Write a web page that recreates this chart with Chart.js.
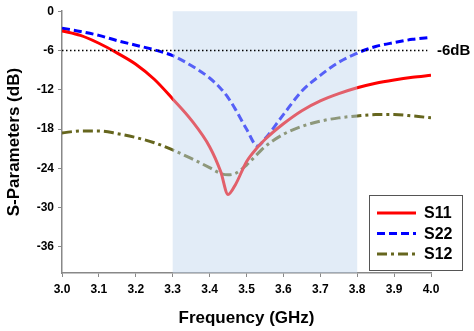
<!DOCTYPE html>
<html>
<head>
<meta charset="utf-8">
<script src="https://cdn.jsdelivr.net/npm/chart.js@4.4.0/dist/chart.umd.min.js"></script>
<style>
  html, body { margin: 0; padding: 0; background: #fff; }
  #wrap { width: 474px; height: 331px; }
</style>
</head>
<body>
<div id="wrap"><canvas id="myChart" width="474" height="331"></canvas></div>
<script>
// frequency points (GHz)
var freq = [3.0, 3.05, 3.1, 3.15, 3.2, 3.25, 3.3, 3.35, 3.4, 3.43, 3.45, 3.47, 3.5, 3.53, 3.55, 3.6, 3.65, 3.7, 3.75, 3.8, 3.85, 3.9, 3.95, 4.0];
var s11 = [-3.0, -3.7, -4.9, -6.4, -8.1, -10.4, -13.4, -16.6, -20.7, -24.5, -28.0, -26.5, -23.0, -20.8, -19.6, -17.2, -15.2, -13.7, -12.6, -11.7, -11.0, -10.5, -10.1, -9.8];
var s22 = [-2.6, -3.1, -3.7, -4.5, -5.2, -5.9, -6.8, -8.3, -10.2, -11.8, -13.2, -15.0, -18.0, -20.6, -19.5, -15.8, -12.2, -9.8, -7.8, -6.4, -5.4, -4.8, -4.3, -4.0];
var s12 = [-18.6, -18.3, -18.3, -18.7, -19.3, -20.1, -21.2, -22.5, -23.9, -24.8, -25.0, -24.8, -23.5, -21.8, -20.7, -18.8, -17.6, -16.8, -16.3, -16.0, -15.8, -15.8, -16.0, -16.3];
var yTicks = [0, -6, -12, -18, -24, -30, -36];
var xTicks = [3.0, 3.1, 3.2, 3.3, 3.4, 3.5, 3.6, 3.7, 3.8, 3.9, 4.0];
var band = [3.3, 3.8];
var refLevel = -6;
var refEnd = 3.99;
var refLabel = "-6dB";

function pts(ys) {
	return freq.map(function (f, i) { return { x: f, y: ys[i] }; });
}

var series = [
	{ label: "S11", data: s11, color: "#ff0000", dash: [] },
	{ label: "S22", data: s22, color: "#0000ff", dash: [8, 4] },
	{ label: "S12", data: s12, color: "#66661e", dash: [10, 4, 3, 4] }
];

var boldFont = "'Liberation Sans', Arial, sans-serif";

var overlay = {
	id: "overlay",
	afterDatasetsDraw: function (chart) {
		var c = chart.ctx, a = chart.chartArea;
		var xs = chart.scales.x, ys = chart.scales.y;
		// shaded band (drawn over curves, semi transparent)
		c.save();
		c.fillStyle = "rgba(190,213,238,0.45)";
		var x1 = xs.getPixelForValue(band[0]), x2 = xs.getPixelForValue(band[1]);
		c.fillRect(x1, a.top, x2 - x1, a.bottom - a.top);
		// -6 dB dotted line
		var yr = ys.getPixelForValue(refLevel);
		c.strokeStyle = "#000";
		c.lineWidth = 1.5;
		c.setLineDash([1.5, 2.5]);
		c.beginPath();
		c.moveTo(xs.getPixelForValue(3.0), yr);
		c.lineTo(xs.getPixelForValue(refEnd), yr);
		c.stroke();
		c.setLineDash([]);
		c.fillStyle = "#000";
		c.font = "bold 15px " + boldFont;
		c.textBaseline = "middle";
		c.textAlign = "left";
		c.fillText(refLabel, a.right + 6, yr);
		// legend
		var lx = 369, ly = 195, lw = 93, lh = 75;
		c.fillStyle = "#fff";
		c.fillRect(lx, ly, lw, lh);
		c.strokeStyle = "#555";
		c.lineWidth = 1;
		c.strokeRect(lx + 0.5, ly + 0.5, lw, lh);
		series.forEach(function (s, i) {
			var yy = ly + 18 + i * 20.5;
			c.strokeStyle = s.color;
			c.lineWidth = 3;
			c.setLineDash(s.dash);
			c.beginPath();
			c.moveTo(lx + 8, yy);
			c.lineTo(lx + 47, yy);
			c.stroke();
			c.setLineDash([]);
			c.fillStyle = "#000";
			c.font = "bold 16px " + boldFont;
			c.fillText(s.label, lx + 55, yy + 1);
		});
		c.restore();
	}
};

var ctx = document.getElementById("myChart");
var myChart = new Chart(ctx, {
	type: "line",
	data: {
		datasets: series.map(function (s) {
			return {
				label: s.label,
				data: pts(s.data),
				borderColor: s.color,
				backgroundColor: s.color,
				borderWidth: 3,
				borderDash: s.dash,
				pointRadius: 0,
				fill: false,
				cubicInterpolationMode: "monotone"
			};
		})
	},
	options: {
		responsive: false,
		animation: false,
		layout: { padding: { left: 0, right: 43, top: 7, bottom: 0 } },
		plugins: { legend: { display: false }, tooltip: { enabled: false } },
		scales: {
			x: {
				type: "linear",
				min: 3.0,
				max: 4.0,
				afterBuildTicks: function (axis) {
					axis.ticks = xTicks.map(function (v) { return { value: v }; });
				},
				afterFit: function (axis) { axis.height = 58; },
				ticks: {
					color: "#000",
					font: { family: boldFont, size: 12, weight: "bold" },
					padding: 5,
					maxRotation: 0,
					callback: function (v) { return v.toFixed(1); }
				},
				grid: { drawOnChartArea: false, drawTicks: true, tickLength: 4, color: "#888" },
				border: { color: "#888", width: 1.5 },
				title: {
					display: true,
					text: "Frequency (GHz)",
					color: "#000",
					font: { family: boldFont, size: 17, weight: "bold" },
					padding: { top: 8, bottom: 2 }
				}
			},
			y: {
				min: -40,
				max: 0,
				afterBuildTicks: function (axis) {
					axis.ticks = yTicks.map(function (v) { return { value: v }; });
				},
				afterFit: function (axis) { axis.width = 62; },
				ticks: {
					color: "#000",
					font: { family: boldFont, size: 12, weight: "bold" },
					padding: 4
				},
				grid: { drawOnChartArea: false, drawTicks: true, tickLength: 4, color: "#888" },
				border: { color: "#888", width: 1.5 },
				title: {
					display: true,
					text: "S-Parameters (dB)",
					color: "#000",
					font: { family: boldFont, size: 17, weight: "bold" },
					padding: { top: 4, bottom: 0 }
				}
			}
		}
	},
	plugins: [overlay]
});
</script>
</body>
</html>
